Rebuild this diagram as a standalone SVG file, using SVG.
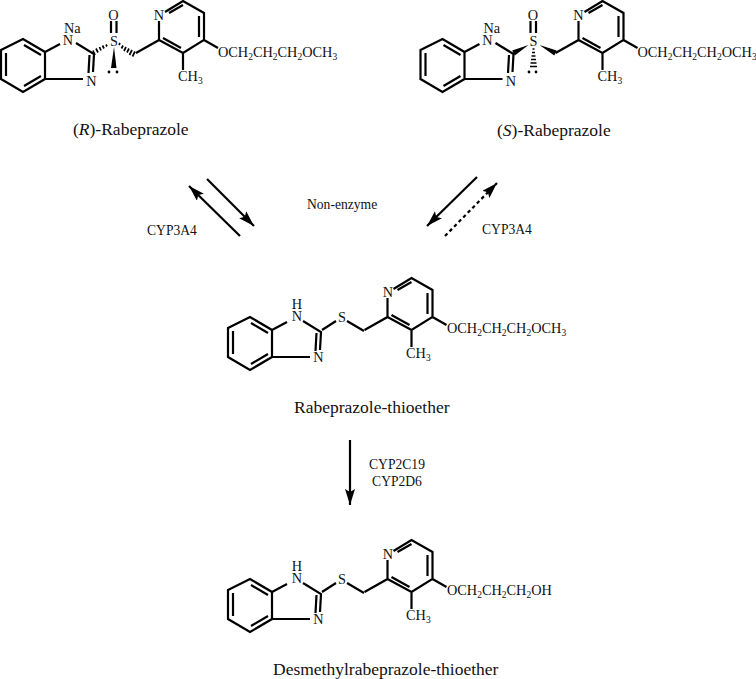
<svg xmlns="http://www.w3.org/2000/svg" width="756" height="679" viewBox="0 0 756 679">
<style>
text{font-family:"Liberation Serif","Times New Roman",serif;fill:#111}
.a{font-size:14.300px}
.n{font-size:17.500px}
.e{font-size:13.600px}
.s{font-size:9.500px}
.b{fill:none;stroke:#000;stroke-width:2.200;stroke-linecap:butt;stroke-linejoin:miter}
.h{fill:none;stroke:#000;stroke-width:1.700}
.ar{fill:none;stroke:#000;stroke-width:2.200}
</style>
<defs>
<marker id="ah" markerUnits="userSpaceOnUse" markerWidth="20" markerHeight="14" refX="16" refY="5" orient="auto">
<path d="M0,0 L16,5 L0,10 L3,5Z" fill="#000"/>
</marker>
<path id="core" class="b" d="M1,50 L23,39 L45,52 L45,79 L23,92 L1,79Z M6,53 L6,76 M24,45 L41,55 M24,86 L41,76 M45,52 L60,44 M76,43 L94,54 L93,72 M89.500,55 L88.500,73 M45,79 L83,79"/>
<path id="pyr" class="b" d="M136,53 L159,40 L159,21 M165,12 L183,1 L204,13 L204,40 L183,53 L159,40 M169,13 L183,5 M199,16 L199,37 M181,48 L163,38 M204,40 L218,48 M183,53 L183,70"/>
</defs>
<g id="connectors">
<line class="ar" x1="240" y1="236" x2="189" y2="186" marker-end="url(#ah)"/>
<line class="ar" x1="207" y1="179" x2="254" y2="226" marker-end="url(#ah)"/>
<line class="ar" x1="477" y1="177" x2="427" y2="226" marker-end="url(#ah)"/>
<line class="ar" stroke-dasharray="3.500 3" x1="445" y1="236" x2="497" y2="183" marker-end="url(#ah)"/>
<line class="ar" x1="350" y1="440" x2="350" y2="505" marker-end="url(#ah)"/>
</g>
<g id="r-rabeprazole">
<use href="#core"/><use href="#pyr"/>
<path class="b" d="M111,33 V21 M116.500,33 V21"/>
<path d="M114,47 L111,68 L116.500,68Z" fill="#000"/>
<path class="h" d="M95,55 L93,50.500 M98,52.500 L96,48.500 M101,50.500 L99.500,47 M104,48.500 L102.500,45.500 M107,46.500 L106,44.500 M120,43 L119,45 M123,45.500 L121.500,48.500 M126,47 L124,51 M129,48.500 L127,52.500 M132,50 L129.500,55 M135,51.500 L132.500,56.500"/>
<circle cx="109" cy="72" r="1.400"/><circle cx="117" cy="72" r="1.400"/>
<text class="a" x="113.500" y="20" text-anchor="middle">O</text>
<text class="a" x="114" y="46" text-anchor="middle">S</text>
<text class="a" x="64" y="33">Na</text>
<text class="a" x="68" y="45" text-anchor="middle">N</text>
<text class="a" x="91.500" y="86" text-anchor="middle">N</text>
<text class="a" x="159" y="20" text-anchor="middle">N</text>
<text class="a" x="178" y="81">CH<tspan class="s" dy="3">3</tspan></text>
<text class="a" x="218" y="56.500">OCH<tspan class="s" dy="3">2</tspan><tspan dy="-3">CH</tspan><tspan class="s" dy="3">2</tspan><tspan dy="-3">CH</tspan><tspan class="s" dy="3">2</tspan><tspan dy="-3">OCH</tspan><tspan class="s" dy="3">3</tspan></text>
<text class="n" x="73" y="135">(<tspan font-style="italic">R</tspan>)-Rabeprazole</text>
</g>
<g id="s-rabeprazole" transform="translate(419.500,0)">
<use href="#core"/><use href="#pyr"/>
<path class="b" d="M111,33 V21 M116.500,33 V21"/>
<path d="M109,45 L92.700,50.600 L95.300,55.400Z" fill="#000"/>
<path d="M120,45 L134.800,55.400 L137.200,50.600Z" fill="#000"/>
<path class="h" d="M113,49 H115 M112.500,52.500 H115.500 M112,56 H116 M111.500,59.500 H116.500 M111,63 H117 M110.500,66.500 H117.500"/>
<circle cx="109.500" cy="72" r="1.400"/><circle cx="116.500" cy="72" r="1.400"/>
<text class="a" x="113.500" y="20" text-anchor="middle">O</text>
<text class="a" x="114" y="46" text-anchor="middle">S</text>
<text class="a" x="64" y="33">Na</text>
<text class="a" x="68" y="45" text-anchor="middle">N</text>
<text class="a" x="91.500" y="86" text-anchor="middle">N</text>
<text class="a" x="159" y="20" text-anchor="middle">N</text>
<text class="a" x="178" y="81">CH<tspan class="s" dy="3">3</tspan></text>
<text class="a" x="218" y="56.500">OCH<tspan class="s" dy="3">2</tspan><tspan dy="-3">CH</tspan><tspan class="s" dy="3">2</tspan><tspan dy="-3">CH</tspan><tspan class="s" dy="3">2</tspan><tspan dy="-3">OCH</tspan><tspan class="s" dy="3">3</tspan></text>
<text class="n" x="77.500" y="136">(<tspan font-style="italic">S</tspan>)-Rabeprazole</text>
</g>
<g id="labels">
<text class="e" x="147" y="235">CYP3A4</text>
<text class="e" x="307" y="209">Non-enzyme</text>
<text class="e" x="482" y="234">CYP3A4</text>
<text class="e" x="397" y="469" text-anchor="middle">CYP2C19</text>
<text class="e" x="397" y="486" text-anchor="middle">CYP2D6</text>
</g>
<g id="rabeprazole-thioether" transform="translate(227,278)">
<use href="#core"/><use href="#pyr" x="1.500" y="-1"/>
<path class="b" d="M95,52 L109,43 M120,43 L137,53"/>
<text class="a" x="70" y="31" text-anchor="middle">H</text>
<text class="a" x="70" y="43" text-anchor="middle">N</text>
<text class="a" x="91.500" y="84" text-anchor="middle">N</text>
<text class="a" x="115" y="44" text-anchor="middle">S</text>
<text class="a" x="161" y="19" text-anchor="middle">N</text>
<text class="a" x="179" y="80">CH<tspan class="s" dy="3">3</tspan></text>
<text class="a" x="220" y="54.500">OCH<tspan class="s" dy="3">2</tspan><tspan dy="-3">CH</tspan><tspan class="s" dy="3">2</tspan><tspan dy="-3">CH</tspan><tspan class="s" dy="3">2</tspan><tspan dy="-3">OCH</tspan><tspan class="s" dy="3">3</tspan></text>
<text class="n" x="67" y="135">Rabeprazole-thioether</text>
</g>
<g id="desmethylrabeprazole-thioether" transform="translate(227,540)">
<use href="#core"/><use href="#pyr" x="1.500" y="-1"/>
<path class="b" d="M95,52 L109,43 M120,43 L137,53"/>
<text class="a" x="70" y="31" text-anchor="middle">H</text>
<text class="a" x="70" y="43" text-anchor="middle">N</text>
<text class="a" x="91.500" y="84" text-anchor="middle">N</text>
<text class="a" x="115" y="44" text-anchor="middle">S</text>
<text class="a" x="161" y="19" text-anchor="middle">N</text>
<text class="a" x="179" y="80">CH<tspan class="s" dy="3">3</tspan></text>
<text class="a" x="220" y="54.500">OCH<tspan class="s" dy="3">2</tspan><tspan dy="-3">CH</tspan><tspan class="s" dy="3">2</tspan><tspan dy="-3">CH</tspan><tspan class="s" dy="3">2</tspan><tspan dy="-3">OH</tspan></text>
<text class="n" x="46" y="135">Desmethylrabeprazole-thioether</text>
</g>
</svg>
